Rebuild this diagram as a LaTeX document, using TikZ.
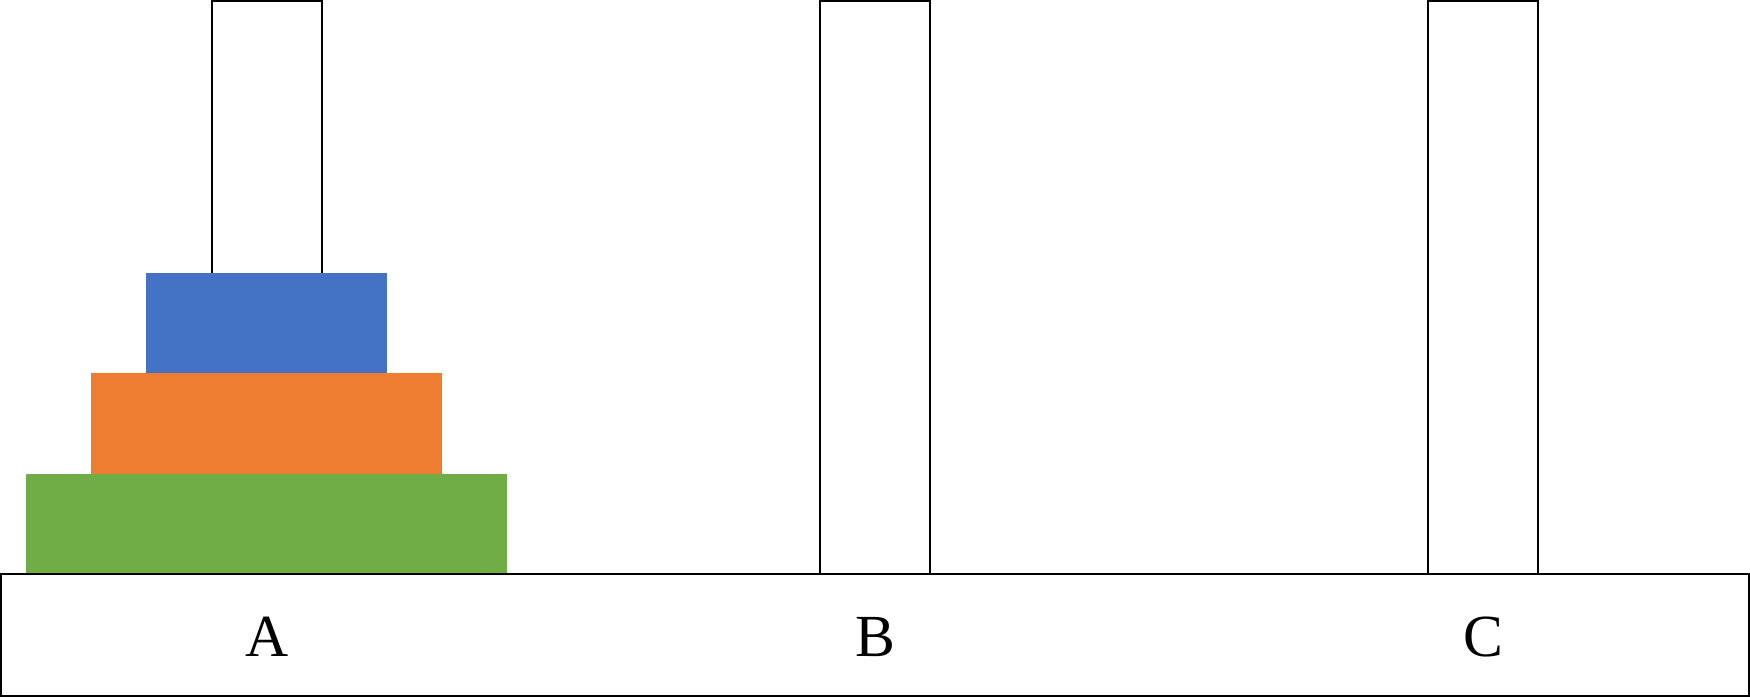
\documentclass[tikz,border=0pt]{standalone}
\usepackage{fontspec}
\setmainfont{Liberation Serif}
\usepackage{tikz}
\definecolor{discblue}{HTML}{4472C4}
\definecolor{discorange}{HTML}{ED7D31}
\definecolor{discgreen}{HTML}{70AD47}
\tikzset{
	peg/.style={draw=black, fill=white, line width=1.1pt},
	disc/.style={draw=none},
	pegname/.style={anchor=base, inner sep=0pt, font=\fontsize{34}{40}\selectfont}
}
\begin{document}
\begin{tikzpicture}[x=0.02cm, y=-0.02cm]
		\useasboundingbox (0,0) rectangle (1750,697);
		% pegs
		\foreach \x in {267,875,1483}{
			\draw [peg] (\x-55,1) rectangle (\x+55,574);
		}
		% discs on peg A
		\fill [disc, discgreen] (26,474) rectangle (507,574);
		\fill [disc, discorange] (91,373) rectangle (442,474);
		\fill [disc, discblue] (146,273) rectangle (387,373);
		% base
		\draw [peg] (1,574) rectangle (1749,696);
		\node [pegname] (labelA) at (267,656) {A};
		\node [pegname] (labelB) at (875,656) {B};
		\node [pegname] (labelC) at (1483,656) {C};
	\end{tikzpicture}
\end{document}
